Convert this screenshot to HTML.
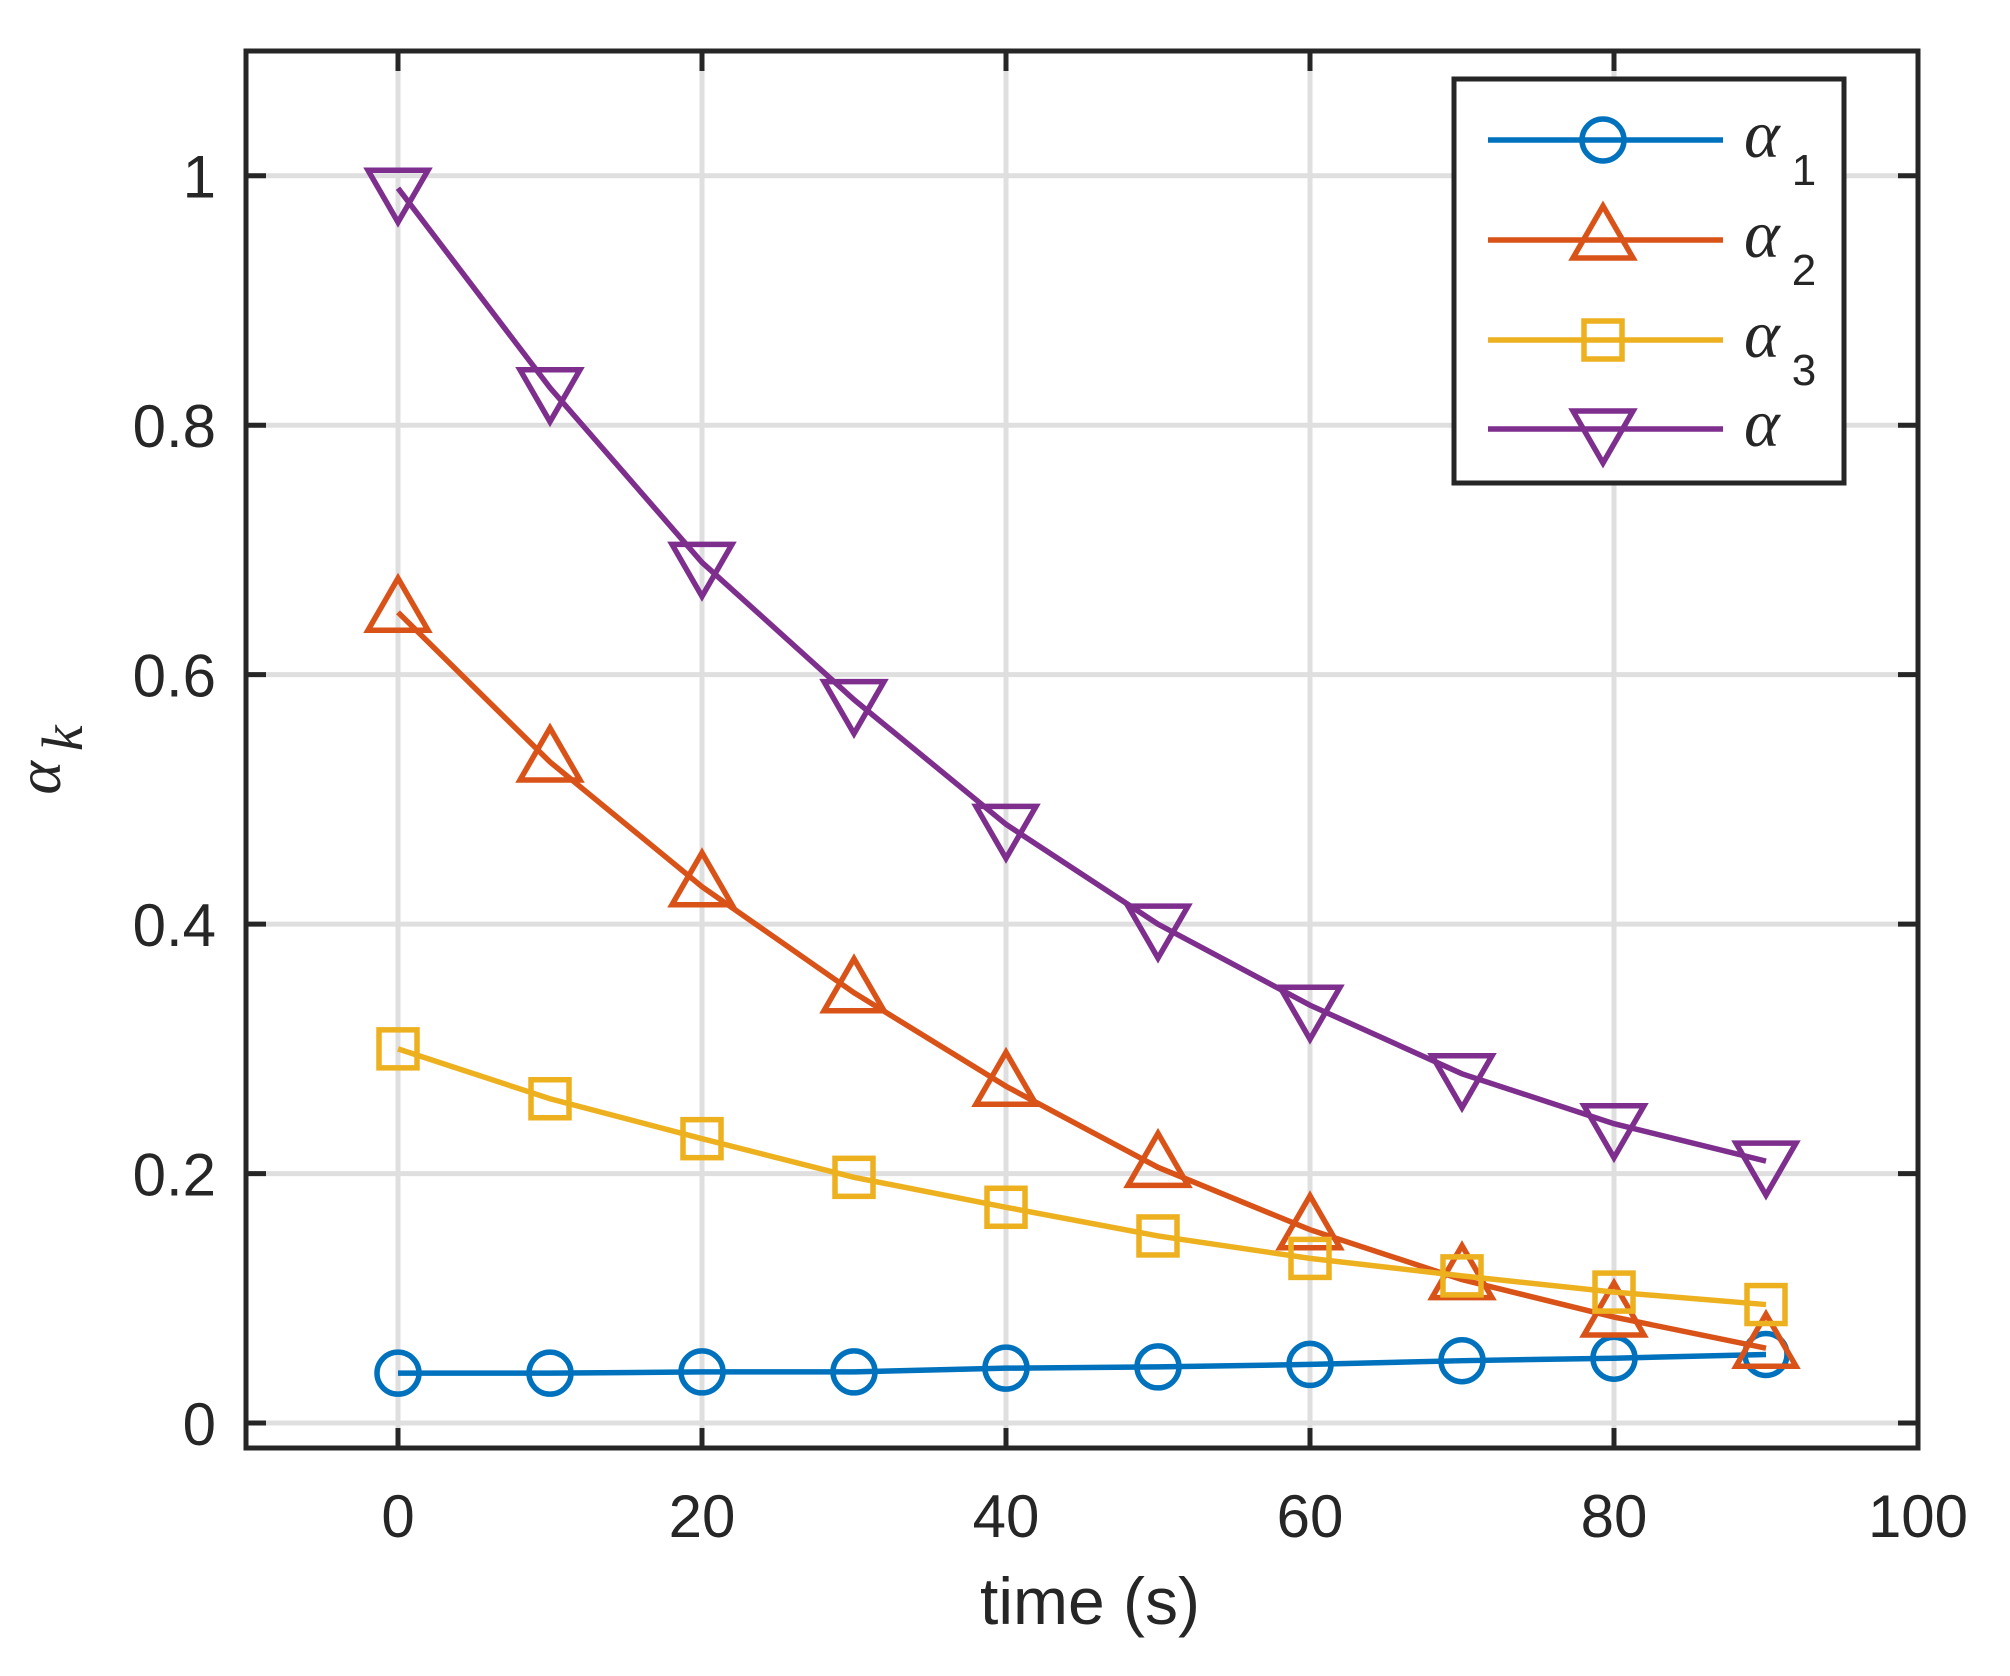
<!DOCTYPE html>
<html><head><meta charset="utf-8"><style>
html,body{margin:0;padding:0;background:#fff;}
svg{display:block;}
text{font-family:"Liberation Sans",Arial,sans-serif;fill:#262626;}
.greek{font-family:"Liberation Serif","DejaVu Serif",serif;font-style:italic;}
</style></head><body>
<svg id="chart" width="2010" height="1676" viewBox="0 0 2010 1676" xmlns="http://www.w3.org/2000/svg">
<g id="grid"></g>
<g id="series"></g>
<g id="axes"></g>
<g id="legend"></g>
</svg>
<script>
const times = [0,10,20,30,40,50,60,70,80,90];
const alpha1 = [0.040,0.040,0.041,0.041,0.044,0.045,0.047,0.050,0.052,0.055];
const alpha2 = [0.650,0.530,0.430,0.345,0.270,0.205,0.155,0.115,0.085,0.060];
const alpha3 = [0.300,0.260,0.228,0.197,0.173,0.150,0.132,0.118,0.105,0.095];
const alphaAll = [0.990,0.830,0.690,0.580,0.480,0.400,0.335,0.280,0.240,0.210];
const xTicks = [0,20,40,60,80,100];
const yTicks = [0,0.2,0.4,0.6,0.8,1];
const yTickLabels = ["0","0.2","0.4","0.6","0.8","1"];

const NS="http://www.w3.org/2000/svg";
const L=246,R=1918,T=51,B=1448;
const xmin=-10,xmax=100,ymin=-0.02,ymax=1.1;
const X=v=>L+(v-xmin)/(xmax-xmin)*(R-L);
const Y=v=>B-(v-ymin)/(ymax-ymin)*(B-T);
function mk(tag,attrs,parent){const e=document.createElementNS(NS,tag);for(const k in attrs)e.setAttribute(k,attrs[k]);parent.appendChild(e);return e;}
const grid=document.getElementById('grid'),axes=document.getElementById('axes'),ser=document.getElementById('series'),leg=document.getElementById('legend');

for(const t of xTicks){
  const g=mk('line',{x1:X(t),x2:X(t),y1:T,y2:B,stroke:'#dfdfdf','stroke-width':5},grid);
  
  
}
for(const t of yTicks){
  const g=mk('line',{x1:L,x2:R,y1:Y(t),y2:Y(t),stroke:'#dfdfdf','stroke-width':5},grid);
  
  
}

function marker(type,x,y,color,parent){
  let e;
  if(type==='o') e=mk('circle',{cx:x,cy:y,r:21},parent);
  else if(type==='^') e=mk('polygon',{points:`${x},${y-34} ${x-30},${y+18} ${x+30},${y+18}`},parent);
  else if(type==='v') e=mk('polygon',{points:`${x},${y+34} ${x-30},${y-18} ${x+30},${y-18}`},parent);
  else e=mk('rect',{x:x-19,y:y-19,width:38,height:38},parent);
  e.setAttribute('fill','none');e.setAttribute('stroke',color);e.setAttribute('stroke-width',5.5);
  return e;
}
const S=[
 {d:alpha1,c:'#0072BD',m:'o',n:'alpha-1'},
 {d:alpha2,c:'#D95319',m:'^',n:'alpha-2'},
 {d:alpha3,c:'#EDB120',m:'s',n:'alpha-3'},
 {d:alphaAll,c:'#7E2F8E',m:'v',n:'alpha'}
];
for(const s of S){
  const g=mk('g',{},ser);
  
  
  const p=mk('polyline',{points:times.map((t,i)=>X(t)+','+Y(s.d[i])).join(' '),fill:'none',stroke:s.c,'stroke-width':5.5},g);
  
  
  times.forEach((t,i)=>{
    const m=marker(s.m,X(t),Y(s.d[i]),s.c,g);
    
    
  });
}

const box=mk('rect',{x:L,y:T,width:R-L,height:B-T,fill:'none',stroke:'#262626','stroke-width':5},axes);


for(const t of xTicks){
  mk('line',{x1:X(t),x2:X(t),y1:B,y2:B-20,stroke:'#262626','stroke-width':5},axes);
  mk('line',{x1:X(t),x2:X(t),y1:T,y2:T+20,stroke:'#262626','stroke-width':5},axes);
  const tx=mk('text',{x:X(t),y:1537,'font-size':60,'text-anchor':'middle'},axes);
  tx.textContent=t;
  
  
}
yTicks.forEach((t,i)=>{
  mk('line',{x1:L,x2:L+20,y1:Y(t),y2:Y(t),stroke:'#262626','stroke-width':5},axes);
  mk('line',{x1:R,x2:R-20,y1:Y(t),y2:Y(t),stroke:'#262626','stroke-width':5},axes);
  const tx=mk('text',{x:216,y:Y(t)+22,'font-size':60,'text-anchor':'end'},axes);
  tx.textContent=yTickLabels[i];
  
  
});
const xt=mk('text',{x:1090,y:1624,'font-size':66,'text-anchor':'middle'},axes);
xt.textContent='time (s)';


const yt=mk('text',{transform:'translate(60,760) rotate(-90)','font-size':64,'text-anchor':'middle'},axes);


const ya=mk('tspan',{class:'greek'},yt);ya.textContent='α';
const yk=mk('tspan',{class:'greek',dx:10,dy:22,'font-size':58},yt);yk.textContent='k';

const lb=mk('rect',{x:1454,y:79,width:390,height:404,fill:'#fff',stroke:'#262626','stroke-width':5},leg);


const rows=[140,240,340,429];
const subs=['1','2','3',''];
S.forEach((s,i)=>{
  const g=mk('g',{},leg);
  
  
  mk('line',{x1:1488,x2:1723,y1:rows[i],y2:rows[i],stroke:s.c,'stroke-width':5.5},g);
  marker(s.m,1603,rows[i],s.c,g);
  const t=mk('text',{x:1744,y:rows[i]+17,'font-size':68},g);
  const a=mk('tspan',{class:'greek'},t);a.textContent='α';
  if(subs[i]){const sb=mk('tspan',{dx:12,dy:28,'font-size':44},t);sb.textContent=subs[i];}
});
</script>
</body></html>
